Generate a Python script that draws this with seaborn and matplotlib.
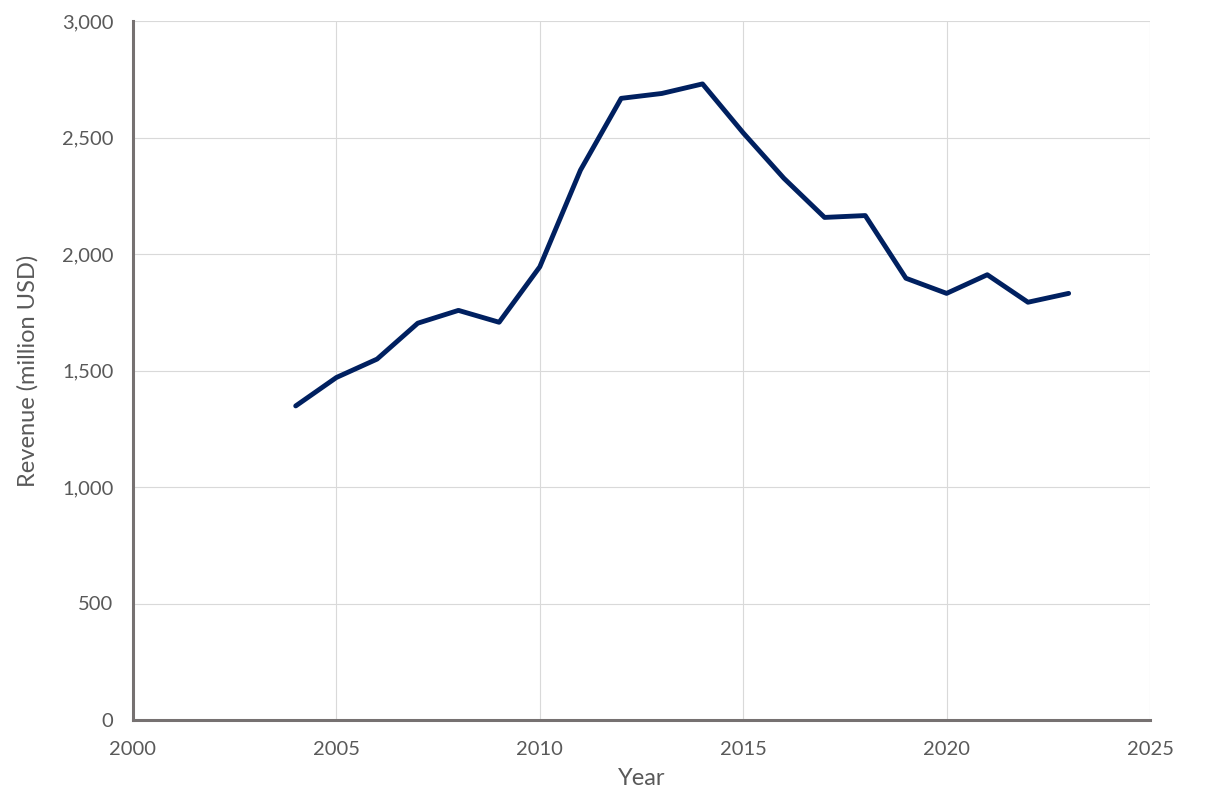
import matplotlib
matplotlib.use("Agg")
import matplotlib.pyplot as plt
import matplotlib.ticker as mticker
import seaborn as sns
import pandas as pd

# Revenue by year (million USD)
years = [2004, 2005, 2006, 2007, 2008, 2009, 2010, 2011, 2012, 2013,
         2014, 2015, 2016, 2017, 2018, 2019, 2020, 2021, 2022, 2023]
revenue = [1348, 1470, 1549, 1703, 1758, 1707, 1945, 2360, 2668, 2689,
           2730, 2520, 2325, 2157, 2165, 1896, 1831, 1911, 1793, 1831]

x_ticks = [2000, 2005, 2010, 2015, 2020, 2025]
y_ticks = [0, 500, 1000, 1500, 2000, 2500, 3000]

text_color = "#595959"
axis_color = "#767171"
grid_color = "#D9D9D9"
line_color = "#002060"


def main():
    sns.set_style("white")
    plt.rcParams["font.family"] = ["Lato", "DejaVu Sans"]

    df = pd.DataFrame({"Year": years, "Revenue": revenue})

    fig = plt.figure(figsize=(12.22, 7.99), dpi=100)
    ax = fig.add_axes([133 / 1222, 1 - 720 / 799,
                       (1150 - 133) / 1222, (720 - 21) / 799])

    sns.lineplot(data=df, x="Year", y="Revenue", ax=ax,
                 color=line_color, linewidth=3.5)

    ax.set_xlim(2000, 2025)
    ax.set_ylim(0, 3000)
    ax.set_xticks(x_ticks)
    ax.set_yticks(y_ticks)
    ax.yaxis.set_major_formatter(mticker.FuncFormatter(lambda v, _: f"{v:,.0f}"))

    ax.grid(True, color=grid_color, linewidth=0.8)
    ax.set_axisbelow(True)

    for side in ["top", "right"]:
        ax.spines[side].set_visible(False)
    for side in ["left", "bottom"]:
        ax.spines[side].set_color(axis_color)
        ax.spines[side].set_linewidth(2.2)

    ax.tick_params(axis="both", direction="out", length=5, width=2,
                   color=axis_color, labelcolor=text_color, labelsize=14.5)
    ax.tick_params(axis="x", pad=10)
    ax.tick_params(axis="y", pad=9)

    ax.set_xlabel("Year", fontsize=17, color=text_color, labelpad=7)
    ax.set_ylabel("Revenue (million USD)", fontsize=17, color=text_color,
                  labelpad=17)

    fig.savefig("out.png", dpi=100)


if __name__ == "__main__":
    main()
